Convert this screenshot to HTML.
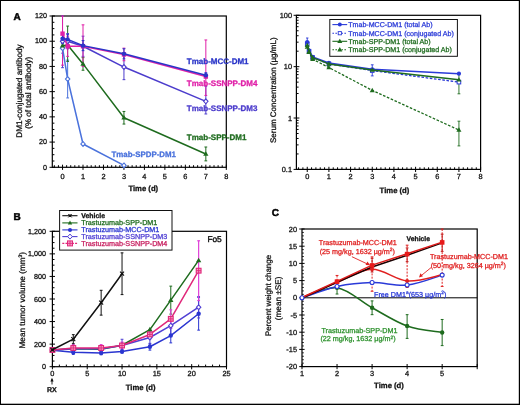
<!DOCTYPE html>
<html><head><meta charset="utf-8"><style>
html,body{margin:0;padding:0;background:#fff;}
body{width:520px;height:405px;overflow:hidden;}
svg{display:block;font-family:"Liberation Sans", sans-serif;}
#g{filter:blur(0.3px);}
text{stroke-width:0.28px;text-rendering:geometricPrecision;}
</style></head><body>
<svg width="520" height="405" viewBox="0 0 520 405">
<rect x="0" y="0" width="520" height="405" fill="#fff"/>
<g id="g">
<line x1="54.35" y1="167.30" x2="54.35" y2="165.20" stroke="#000" stroke-width="1.0" />
<line x1="58.44" y1="167.30" x2="58.44" y2="165.20" stroke="#000" stroke-width="1.0" />
<line x1="66.63" y1="167.30" x2="66.63" y2="165.20" stroke="#000" stroke-width="1.0" />
<line x1="70.72" y1="167.30" x2="70.72" y2="165.20" stroke="#000" stroke-width="1.0" />
<line x1="74.82" y1="167.30" x2="74.82" y2="165.20" stroke="#000" stroke-width="1.0" />
<line x1="78.91" y1="167.30" x2="78.91" y2="165.20" stroke="#000" stroke-width="1.0" />
<line x1="87.10" y1="167.30" x2="87.10" y2="165.20" stroke="#000" stroke-width="1.0" />
<line x1="91.19" y1="167.30" x2="91.19" y2="165.20" stroke="#000" stroke-width="1.0" />
<line x1="95.29" y1="167.30" x2="95.29" y2="165.20" stroke="#000" stroke-width="1.0" />
<line x1="99.38" y1="167.30" x2="99.38" y2="165.20" stroke="#000" stroke-width="1.0" />
<line x1="107.57" y1="167.30" x2="107.57" y2="165.20" stroke="#000" stroke-width="1.0" />
<line x1="111.66" y1="167.30" x2="111.66" y2="165.20" stroke="#000" stroke-width="1.0" />
<line x1="115.76" y1="167.30" x2="115.76" y2="165.20" stroke="#000" stroke-width="1.0" />
<line x1="119.85" y1="167.30" x2="119.85" y2="165.20" stroke="#000" stroke-width="1.0" />
<line x1="128.04" y1="167.30" x2="128.04" y2="165.20" stroke="#000" stroke-width="1.0" />
<line x1="132.14" y1="167.30" x2="132.14" y2="165.20" stroke="#000" stroke-width="1.0" />
<line x1="136.23" y1="167.30" x2="136.23" y2="165.20" stroke="#000" stroke-width="1.0" />
<line x1="140.32" y1="167.30" x2="140.32" y2="165.20" stroke="#000" stroke-width="1.0" />
<line x1="148.51" y1="167.30" x2="148.51" y2="165.20" stroke="#000" stroke-width="1.0" />
<line x1="152.61" y1="167.30" x2="152.61" y2="165.20" stroke="#000" stroke-width="1.0" />
<line x1="156.70" y1="167.30" x2="156.70" y2="165.20" stroke="#000" stroke-width="1.0" />
<line x1="160.79" y1="167.30" x2="160.79" y2="165.20" stroke="#000" stroke-width="1.0" />
<line x1="168.98" y1="167.30" x2="168.98" y2="165.20" stroke="#000" stroke-width="1.0" />
<line x1="173.08" y1="167.30" x2="173.08" y2="165.20" stroke="#000" stroke-width="1.0" />
<line x1="177.17" y1="167.30" x2="177.17" y2="165.20" stroke="#000" stroke-width="1.0" />
<line x1="181.26" y1="167.30" x2="181.26" y2="165.20" stroke="#000" stroke-width="1.0" />
<line x1="189.45" y1="167.30" x2="189.45" y2="165.20" stroke="#000" stroke-width="1.0" />
<line x1="193.55" y1="167.30" x2="193.55" y2="165.20" stroke="#000" stroke-width="1.0" />
<line x1="197.64" y1="167.30" x2="197.64" y2="165.20" stroke="#000" stroke-width="1.0" />
<line x1="201.74" y1="167.30" x2="201.74" y2="165.20" stroke="#000" stroke-width="1.0" />
<line x1="209.92" y1="167.30" x2="209.92" y2="165.20" stroke="#000" stroke-width="1.0" />
<line x1="214.02" y1="167.30" x2="214.02" y2="165.20" stroke="#000" stroke-width="1.0" />
<line x1="218.11" y1="167.30" x2="218.11" y2="165.20" stroke="#000" stroke-width="1.0" />
<line x1="222.21" y1="167.30" x2="222.21" y2="165.20" stroke="#000" stroke-width="1.0" />
<line x1="52.30" y1="161.00" x2="54.40" y2="161.00" stroke="#000" stroke-width="1.0" />
<line x1="52.30" y1="154.69" x2="54.40" y2="154.69" stroke="#000" stroke-width="1.0" />
<line x1="52.30" y1="148.39" x2="54.40" y2="148.39" stroke="#000" stroke-width="1.0" />
<line x1="52.30" y1="135.78" x2="54.40" y2="135.78" stroke="#000" stroke-width="1.0" />
<line x1="52.30" y1="129.48" x2="54.40" y2="129.48" stroke="#000" stroke-width="1.0" />
<line x1="52.30" y1="123.17" x2="54.40" y2="123.17" stroke="#000" stroke-width="1.0" />
<line x1="52.30" y1="110.56" x2="54.40" y2="110.56" stroke="#000" stroke-width="1.0" />
<line x1="52.30" y1="104.26" x2="54.40" y2="104.26" stroke="#000" stroke-width="1.0" />
<line x1="52.30" y1="97.95" x2="54.40" y2="97.95" stroke="#000" stroke-width="1.0" />
<line x1="52.30" y1="85.35" x2="54.40" y2="85.35" stroke="#000" stroke-width="1.0" />
<line x1="52.30" y1="79.04" x2="54.40" y2="79.04" stroke="#000" stroke-width="1.0" />
<line x1="52.30" y1="72.74" x2="54.40" y2="72.74" stroke="#000" stroke-width="1.0" />
<line x1="52.30" y1="60.13" x2="54.40" y2="60.13" stroke="#000" stroke-width="1.0" />
<line x1="52.30" y1="53.83" x2="54.40" y2="53.83" stroke="#000" stroke-width="1.0" />
<line x1="52.30" y1="47.52" x2="54.40" y2="47.52" stroke="#000" stroke-width="1.0" />
<line x1="52.30" y1="34.91" x2="54.40" y2="34.91" stroke="#000" stroke-width="1.0" />
<line x1="52.30" y1="28.61" x2="54.40" y2="28.61" stroke="#000" stroke-width="1.0" />
<line x1="52.30" y1="22.30" x2="54.40" y2="22.30" stroke="#000" stroke-width="1.0" />
<line x1="62.54" y1="164.70" x2="62.54" y2="169.90" stroke="#000" stroke-width="1.0" />
<text x="62.54" y="179.00" font-size="7.4" text-anchor="middle" font-weight="normal" fill="#111" stroke="#111" >0</text>
<line x1="83.01" y1="164.70" x2="83.01" y2="169.90" stroke="#000" stroke-width="1.0" />
<text x="83.01" y="179.00" font-size="7.4" text-anchor="middle" font-weight="normal" fill="#111" stroke="#111" >1</text>
<line x1="103.48" y1="164.70" x2="103.48" y2="169.90" stroke="#000" stroke-width="1.0" />
<text x="103.48" y="179.00" font-size="7.4" text-anchor="middle" font-weight="normal" fill="#111" stroke="#111" >2</text>
<line x1="123.95" y1="164.70" x2="123.95" y2="169.90" stroke="#000" stroke-width="1.0" />
<text x="123.95" y="179.00" font-size="7.4" text-anchor="middle" font-weight="normal" fill="#111" stroke="#111" >3</text>
<line x1="144.42" y1="164.70" x2="144.42" y2="169.90" stroke="#000" stroke-width="1.0" />
<text x="144.42" y="179.00" font-size="7.4" text-anchor="middle" font-weight="normal" fill="#111" stroke="#111" >4</text>
<line x1="164.89" y1="164.70" x2="164.89" y2="169.90" stroke="#000" stroke-width="1.0" />
<text x="164.89" y="179.00" font-size="7.4" text-anchor="middle" font-weight="normal" fill="#111" stroke="#111" >5</text>
<line x1="185.36" y1="164.70" x2="185.36" y2="169.90" stroke="#000" stroke-width="1.0" />
<text x="185.36" y="179.00" font-size="7.4" text-anchor="middle" font-weight="normal" fill="#111" stroke="#111" >6</text>
<line x1="205.83" y1="164.70" x2="205.83" y2="169.90" stroke="#000" stroke-width="1.0" />
<text x="205.83" y="179.00" font-size="7.4" text-anchor="middle" font-weight="normal" fill="#111" stroke="#111" >7</text>
<line x1="226.30" y1="164.70" x2="226.30" y2="169.90" stroke="#000" stroke-width="1.0" />
<text x="226.30" y="179.00" font-size="7.4" text-anchor="middle" font-weight="normal" fill="#111" stroke="#111" >8</text>
<line x1="49.50" y1="167.30" x2="54.90" y2="167.30" stroke="#000" stroke-width="1.0" />
<text x="47.00" y="169.50" font-size="7.2" text-anchor="end" font-weight="normal" fill="#111" stroke="#111" >0</text>
<line x1="49.50" y1="142.08" x2="54.90" y2="142.08" stroke="#000" stroke-width="1.0" />
<text x="47.00" y="144.28" font-size="7.2" text-anchor="end" font-weight="normal" fill="#111" stroke="#111" >20</text>
<line x1="49.50" y1="116.87" x2="54.90" y2="116.87" stroke="#000" stroke-width="1.0" />
<text x="47.00" y="119.07" font-size="7.2" text-anchor="end" font-weight="normal" fill="#111" stroke="#111" >40</text>
<line x1="49.50" y1="91.65" x2="54.90" y2="91.65" stroke="#000" stroke-width="1.0" />
<text x="47.00" y="93.85" font-size="7.2" text-anchor="end" font-weight="normal" fill="#111" stroke="#111" >60</text>
<line x1="49.50" y1="66.43" x2="54.90" y2="66.43" stroke="#000" stroke-width="1.0" />
<text x="47.00" y="68.63" font-size="7.2" text-anchor="end" font-weight="normal" fill="#111" stroke="#111" >80</text>
<line x1="49.50" y1="41.22" x2="54.90" y2="41.22" stroke="#000" stroke-width="1.0" />
<text x="47.00" y="43.42" font-size="7.2" text-anchor="end" font-weight="normal" fill="#111" stroke="#111" >100</text>
<line x1="49.50" y1="16.00" x2="54.90" y2="16.00" stroke="#000" stroke-width="1.0" />
<text x="47.00" y="18.20" font-size="7.2" text-anchor="end" font-weight="normal" fill="#111" stroke="#111" >120</text>
<rect x="52.3" y="16.0" width="174.0" height="151.3" fill="none" stroke="#000" stroke-width="1.2"/>
<text x="143.30" y="191.40" font-size="7.7" text-anchor="middle" font-weight="bold" fill="#111" stroke="#111" >Time (d)</text>
<text transform="translate(22.3,91) rotate(-90)" font-size="8.2" text-anchor="middle" fill="#111" stroke="#111">DM1-conjugated antibody</text>
<text transform="translate(30.6,92.8) rotate(-90)" font-size="8.1" text-anchor="middle" fill="#111" stroke="#111">(% of total antibody)</text>
<line x1="62.54" y1="43.11" x2="62.54" y2="53.19" stroke="#4a72dc" stroke-width="1.0" />
<line x1="61.14" y1="43.11" x2="63.94" y2="43.11" stroke="#4a72dc" stroke-width="1.0" />
<line x1="61.14" y1="53.19" x2="63.94" y2="53.19" stroke="#4a72dc" stroke-width="1.0" />
<line x1="67.65" y1="60.13" x2="67.65" y2="97.95" stroke="#4a72dc" stroke-width="1.0" />
<line x1="66.25" y1="60.13" x2="69.05" y2="60.13" stroke="#4a72dc" stroke-width="1.0" />
<line x1="66.25" y1="97.95" x2="69.05" y2="97.95" stroke="#4a72dc" stroke-width="1.0" />
<line x1="62.54" y1="41.85" x2="62.54" y2="49.41" stroke="#1e6b1e" stroke-width="1.0" />
<line x1="61.14" y1="41.85" x2="63.94" y2="41.85" stroke="#1e6b1e" stroke-width="1.0" />
<line x1="61.14" y1="49.41" x2="63.94" y2="49.41" stroke="#1e6b1e" stroke-width="1.0" />
<line x1="67.65" y1="26.09" x2="67.65" y2="61.39" stroke="#1e6b1e" stroke-width="1.0" />
<line x1="66.25" y1="26.09" x2="69.05" y2="26.09" stroke="#1e6b1e" stroke-width="1.0" />
<line x1="66.25" y1="61.39" x2="69.05" y2="61.39" stroke="#1e6b1e" stroke-width="1.0" />
<line x1="83.01" y1="57.61" x2="83.01" y2="70.22" stroke="#1e6b1e" stroke-width="1.0" />
<line x1="81.61" y1="57.61" x2="84.41" y2="57.61" stroke="#1e6b1e" stroke-width="1.0" />
<line x1="81.61" y1="70.22" x2="84.41" y2="70.22" stroke="#1e6b1e" stroke-width="1.0" />
<line x1="123.95" y1="111.45" x2="123.95" y2="124.05" stroke="#1e6b1e" stroke-width="1.0" />
<line x1="122.55" y1="111.45" x2="125.35" y2="111.45" stroke="#1e6b1e" stroke-width="1.0" />
<line x1="122.55" y1="124.05" x2="125.35" y2="124.05" stroke="#1e6b1e" stroke-width="1.0" />
<line x1="205.83" y1="147.00" x2="205.83" y2="160.87" stroke="#1e6b1e" stroke-width="1.0" />
<line x1="204.43" y1="147.00" x2="207.23" y2="147.00" stroke="#1e6b1e" stroke-width="1.0" />
<line x1="204.43" y1="160.87" x2="207.23" y2="160.87" stroke="#1e6b1e" stroke-width="1.0" />
<line x1="62.54" y1="16.00" x2="62.54" y2="67.69" stroke="#4c3ccc" stroke-width="1.0" />
<line x1="61.14" y1="16.00" x2="63.94" y2="16.00" stroke="#4c3ccc" stroke-width="1.0" />
<line x1="61.14" y1="67.69" x2="63.94" y2="67.69" stroke="#4c3ccc" stroke-width="1.0" />
<line x1="67.65" y1="33.65" x2="67.65" y2="48.78" stroke="#4c3ccc" stroke-width="1.0" />
<line x1="66.25" y1="33.65" x2="69.05" y2="33.65" stroke="#4c3ccc" stroke-width="1.0" />
<line x1="66.25" y1="48.78" x2="69.05" y2="48.78" stroke="#4c3ccc" stroke-width="1.0" />
<line x1="83.01" y1="36.17" x2="83.01" y2="56.35" stroke="#4c3ccc" stroke-width="1.0" />
<line x1="81.61" y1="36.17" x2="84.41" y2="36.17" stroke="#4c3ccc" stroke-width="1.0" />
<line x1="81.61" y1="56.35" x2="84.41" y2="56.35" stroke="#4c3ccc" stroke-width="1.0" />
<line x1="123.95" y1="54.46" x2="123.95" y2="79.67" stroke="#4c3ccc" stroke-width="1.0" />
<line x1="122.55" y1="54.46" x2="125.35" y2="54.46" stroke="#4c3ccc" stroke-width="1.0" />
<line x1="122.55" y1="79.67" x2="125.35" y2="79.67" stroke="#4c3ccc" stroke-width="1.0" />
<line x1="205.83" y1="86.23" x2="205.83" y2="113.97" stroke="#4c3ccc" stroke-width="1.0" />
<line x1="204.43" y1="86.23" x2="207.23" y2="86.23" stroke="#4c3ccc" stroke-width="1.0" />
<line x1="204.43" y1="113.97" x2="207.23" y2="113.97" stroke="#4c3ccc" stroke-width="1.0" />
<line x1="62.54" y1="16.00" x2="62.54" y2="65.17" stroke="#e020a8" stroke-width="1.0" />
<line x1="61.14" y1="16.00" x2="63.94" y2="16.00" stroke="#e020a8" stroke-width="1.0" />
<line x1="61.14" y1="65.17" x2="63.94" y2="65.17" stroke="#e020a8" stroke-width="1.0" />
<line x1="67.65" y1="36.17" x2="67.65" y2="56.35" stroke="#e020a8" stroke-width="1.0" />
<line x1="66.25" y1="36.17" x2="69.05" y2="36.17" stroke="#e020a8" stroke-width="1.0" />
<line x1="66.25" y1="56.35" x2="69.05" y2="56.35" stroke="#e020a8" stroke-width="1.0" />
<line x1="83.01" y1="24.83" x2="83.01" y2="66.43" stroke="#e020a8" stroke-width="1.0" />
<line x1="81.61" y1="24.83" x2="84.41" y2="24.83" stroke="#e020a8" stroke-width="1.0" />
<line x1="81.61" y1="66.43" x2="84.41" y2="66.43" stroke="#e020a8" stroke-width="1.0" />
<line x1="123.95" y1="48.15" x2="123.95" y2="60.76" stroke="#e020a8" stroke-width="1.0" />
<line x1="122.55" y1="48.15" x2="125.35" y2="48.15" stroke="#e020a8" stroke-width="1.0" />
<line x1="122.55" y1="60.76" x2="125.35" y2="60.76" stroke="#e020a8" stroke-width="1.0" />
<line x1="205.83" y1="39.96" x2="205.83" y2="95.43" stroke="#e020a8" stroke-width="1.0" />
<line x1="204.43" y1="39.96" x2="207.23" y2="39.96" stroke="#e020a8" stroke-width="1.0" />
<line x1="204.43" y1="95.43" x2="207.23" y2="95.43" stroke="#e020a8" stroke-width="1.0" />
<line x1="62.54" y1="33.65" x2="62.54" y2="43.74" stroke="#2a35c8" stroke-width="1.0" />
<line x1="61.14" y1="33.65" x2="63.94" y2="33.65" stroke="#2a35c8" stroke-width="1.0" />
<line x1="61.14" y1="43.74" x2="63.94" y2="43.74" stroke="#2a35c8" stroke-width="1.0" />
<line x1="67.65" y1="34.28" x2="67.65" y2="44.37" stroke="#2a35c8" stroke-width="1.0" />
<line x1="66.25" y1="34.28" x2="69.05" y2="34.28" stroke="#2a35c8" stroke-width="1.0" />
<line x1="66.25" y1="44.37" x2="69.05" y2="44.37" stroke="#2a35c8" stroke-width="1.0" />
<line x1="83.01" y1="40.59" x2="83.01" y2="50.67" stroke="#2a35c8" stroke-width="1.0" />
<line x1="81.61" y1="40.59" x2="84.41" y2="40.59" stroke="#2a35c8" stroke-width="1.0" />
<line x1="81.61" y1="50.67" x2="84.41" y2="50.67" stroke="#2a35c8" stroke-width="1.0" />
<line x1="123.95" y1="48.78" x2="123.95" y2="58.87" stroke="#2a35c8" stroke-width="1.0" />
<line x1="122.55" y1="48.78" x2="125.35" y2="48.78" stroke="#2a35c8" stroke-width="1.0" />
<line x1="122.55" y1="58.87" x2="125.35" y2="58.87" stroke="#2a35c8" stroke-width="1.0" />
<line x1="205.83" y1="72.74" x2="205.83" y2="77.78" stroke="#2a35c8" stroke-width="1.0" />
<line x1="204.43" y1="72.74" x2="207.23" y2="72.74" stroke="#2a35c8" stroke-width="1.0" />
<line x1="204.43" y1="77.78" x2="207.23" y2="77.78" stroke="#2a35c8" stroke-width="1.0" />
<polyline points="62.54,48.15 67.65,79.04 83.01,143.97 123.95,165.41" fill="none" stroke="#4a72dc" stroke-width="1.5" stroke-linejoin="round" />
<polygon points="62.54,45.73 64.74,48.15 62.54,50.57 60.34,48.15" fill="#fff" stroke="#4a72dc" stroke-width="1.1"/>
<polygon points="67.65,76.62 69.85,79.04 67.65,81.46 65.45,79.04" fill="#fff" stroke="#4a72dc" stroke-width="1.1"/>
<polygon points="83.01,141.55 85.21,143.97 83.01,146.39 80.81,143.97" fill="#fff" stroke="#4a72dc" stroke-width="1.1"/>
<polygon points="123.95,162.99 126.15,165.41 123.95,167.83 121.75,165.41" fill="#fff" stroke="#4a72dc" stroke-width="1.1"/>
<polyline points="62.54,45.63 67.65,45.00 83.01,63.91 123.95,117.75 205.83,153.94" fill="none" stroke="#1e6b1e" stroke-width="1.5" stroke-linejoin="round" />
<polygon points="62.54,42.87 65.18,47.43 59.90,47.43" fill="#1e6b1e"/>
<polygon points="67.65,42.24 70.29,46.80 65.01,46.80" fill="#1e6b1e"/>
<polygon points="83.01,61.15 85.65,65.71 80.37,65.71" fill="#1e6b1e"/>
<polygon points="123.95,114.99 126.59,119.55 121.31,119.55" fill="#1e6b1e"/>
<polygon points="205.83,151.18 208.47,155.74 203.19,155.74" fill="#1e6b1e"/>
<polyline points="62.54,41.22 67.65,41.22 83.01,46.26 123.95,67.06 205.83,101.36" fill="none" stroke="#4c3ccc" stroke-width="1.5" stroke-linejoin="round" />
<polygon points="62.54,38.80 64.74,41.22 62.54,43.64 60.34,41.22" fill="#fff" stroke="#4c3ccc" stroke-width="1.1"/>
<polygon points="67.65,38.80 69.85,41.22 67.65,43.64 65.45,41.22" fill="#fff" stroke="#4c3ccc" stroke-width="1.1"/>
<polygon points="83.01,43.84 85.21,46.26 83.01,48.68 80.81,46.26" fill="#fff" stroke="#4c3ccc" stroke-width="1.1"/>
<polygon points="123.95,64.64 126.15,67.06 123.95,69.48 121.75,67.06" fill="#fff" stroke="#4c3ccc" stroke-width="1.1"/>
<polygon points="205.83,98.94 208.03,101.36 205.83,103.78 203.63,101.36" fill="#fff" stroke="#4c3ccc" stroke-width="1.1"/>
<polyline points="62.54,33.65 67.65,46.26 83.01,46.26 123.95,54.46 205.83,76.52" fill="none" stroke="#e020a8" stroke-width="1.5" stroke-linejoin="round" />
<rect x="60.34" y="31.45" width="4.40" height="4.40" fill="#e020a8"/>
<rect x="65.45" y="44.06" width="4.40" height="4.40" fill="#e020a8"/>
<rect x="80.81" y="44.06" width="4.40" height="4.40" fill="#e020a8"/>
<rect x="121.75" y="52.26" width="4.40" height="4.40" fill="#e020a8"/>
<rect x="203.63" y="74.32" width="4.40" height="4.40" fill="#e020a8"/>
<polyline points="62.54,38.70 67.65,39.33 83.01,45.63 123.95,53.83 205.83,75.26" fill="none" stroke="#2a35c8" stroke-width="1.5" stroke-linejoin="round" />
<circle cx="62.54" cy="38.70" r="2.20" fill="#2a35c8"/>
<circle cx="67.65" cy="39.33" r="2.20" fill="#2a35c8"/>
<circle cx="83.01" cy="45.63" r="2.20" fill="#2a35c8"/>
<circle cx="123.95" cy="53.83" r="2.20" fill="#2a35c8"/>
<circle cx="205.83" cy="75.26" r="2.20" fill="#2a35c8"/>
<text x="186.80" y="64.00" font-size="8.0" text-anchor="start" font-weight="bold" fill="#2a35c8" stroke="#2a35c8" >Tmab-MCC-DM1</text>
<text x="186.80" y="86.00" font-size="8.0" text-anchor="start" font-weight="bold" fill="#e020a8" stroke="#e020a8" >Tmab-SSNPP-DM4</text>
<text x="186.80" y="111.30" font-size="8.0" text-anchor="start" font-weight="bold" fill="#4c3ccc" stroke="#4c3ccc" >Tmab-SSNPP-DM3</text>
<text x="186.80" y="139.80" font-size="8.0" text-anchor="start" font-weight="bold" fill="#1e6b1e" stroke="#1e6b1e" >Tmab-SPP-DM1</text>
<text x="111.50" y="157.00" font-size="7.9" text-anchor="start" font-weight="bold" fill="#4a72dc" stroke="#4a72dc" >Tmab-SPDP-DM1</text>
<line x1="298.57" y1="169.40" x2="298.57" y2="167.30" stroke="#000" stroke-width="1.0" />
<line x1="302.90" y1="169.40" x2="302.90" y2="167.30" stroke="#000" stroke-width="1.0" />
<line x1="311.57" y1="169.40" x2="311.57" y2="167.30" stroke="#000" stroke-width="1.0" />
<line x1="315.90" y1="169.40" x2="315.90" y2="167.30" stroke="#000" stroke-width="1.0" />
<line x1="320.24" y1="169.40" x2="320.24" y2="167.30" stroke="#000" stroke-width="1.0" />
<line x1="324.57" y1="169.40" x2="324.57" y2="167.30" stroke="#000" stroke-width="1.0" />
<line x1="333.24" y1="169.40" x2="333.24" y2="167.30" stroke="#000" stroke-width="1.0" />
<line x1="337.57" y1="169.40" x2="337.57" y2="167.30" stroke="#000" stroke-width="1.0" />
<line x1="341.91" y1="169.40" x2="341.91" y2="167.30" stroke="#000" stroke-width="1.0" />
<line x1="346.24" y1="169.40" x2="346.24" y2="167.30" stroke="#000" stroke-width="1.0" />
<line x1="354.91" y1="169.40" x2="354.91" y2="167.30" stroke="#000" stroke-width="1.0" />
<line x1="359.24" y1="169.40" x2="359.24" y2="167.30" stroke="#000" stroke-width="1.0" />
<line x1="363.58" y1="169.40" x2="363.58" y2="167.30" stroke="#000" stroke-width="1.0" />
<line x1="367.91" y1="169.40" x2="367.91" y2="167.30" stroke="#000" stroke-width="1.0" />
<line x1="376.58" y1="169.40" x2="376.58" y2="167.30" stroke="#000" stroke-width="1.0" />
<line x1="380.92" y1="169.40" x2="380.92" y2="167.30" stroke="#000" stroke-width="1.0" />
<line x1="385.25" y1="169.40" x2="385.25" y2="167.30" stroke="#000" stroke-width="1.0" />
<line x1="389.58" y1="169.40" x2="389.58" y2="167.30" stroke="#000" stroke-width="1.0" />
<line x1="398.25" y1="169.40" x2="398.25" y2="167.30" stroke="#000" stroke-width="1.0" />
<line x1="402.59" y1="169.40" x2="402.59" y2="167.30" stroke="#000" stroke-width="1.0" />
<line x1="406.92" y1="169.40" x2="406.92" y2="167.30" stroke="#000" stroke-width="1.0" />
<line x1="411.25" y1="169.40" x2="411.25" y2="167.30" stroke="#000" stroke-width="1.0" />
<line x1="419.92" y1="169.40" x2="419.92" y2="167.30" stroke="#000" stroke-width="1.0" />
<line x1="424.26" y1="169.40" x2="424.26" y2="167.30" stroke="#000" stroke-width="1.0" />
<line x1="428.59" y1="169.40" x2="428.59" y2="167.30" stroke="#000" stroke-width="1.0" />
<line x1="432.92" y1="169.40" x2="432.92" y2="167.30" stroke="#000" stroke-width="1.0" />
<line x1="441.59" y1="169.40" x2="441.59" y2="167.30" stroke="#000" stroke-width="1.0" />
<line x1="445.93" y1="169.40" x2="445.93" y2="167.30" stroke="#000" stroke-width="1.0" />
<line x1="450.26" y1="169.40" x2="450.26" y2="167.30" stroke="#000" stroke-width="1.0" />
<line x1="454.60" y1="169.40" x2="454.60" y2="167.30" stroke="#000" stroke-width="1.0" />
<line x1="463.26" y1="169.40" x2="463.26" y2="167.30" stroke="#000" stroke-width="1.0" />
<line x1="467.60" y1="169.40" x2="467.60" y2="167.30" stroke="#000" stroke-width="1.0" />
<line x1="471.93" y1="169.40" x2="471.93" y2="167.30" stroke="#000" stroke-width="1.0" />
<line x1="476.27" y1="169.40" x2="476.27" y2="167.30" stroke="#000" stroke-width="1.0" />
<line x1="296.40" y1="153.94" x2="298.60" y2="153.94" stroke="#000" stroke-width="1.0" />
<line x1="296.40" y1="144.89" x2="298.60" y2="144.89" stroke="#000" stroke-width="1.0" />
<line x1="296.40" y1="138.47" x2="298.60" y2="138.47" stroke="#000" stroke-width="1.0" />
<line x1="296.40" y1="133.50" x2="298.60" y2="133.50" stroke="#000" stroke-width="1.0" />
<line x1="296.40" y1="129.43" x2="298.60" y2="129.43" stroke="#000" stroke-width="1.0" />
<line x1="296.40" y1="125.99" x2="298.60" y2="125.99" stroke="#000" stroke-width="1.0" />
<line x1="296.40" y1="123.01" x2="298.60" y2="123.01" stroke="#000" stroke-width="1.0" />
<line x1="296.40" y1="120.38" x2="298.60" y2="120.38" stroke="#000" stroke-width="1.0" />
<line x1="296.40" y1="102.57" x2="298.60" y2="102.57" stroke="#000" stroke-width="1.0" />
<line x1="296.40" y1="93.53" x2="298.60" y2="93.53" stroke="#000" stroke-width="1.0" />
<line x1="296.40" y1="87.11" x2="298.60" y2="87.11" stroke="#000" stroke-width="1.0" />
<line x1="296.40" y1="82.13" x2="298.60" y2="82.13" stroke="#000" stroke-width="1.0" />
<line x1="296.40" y1="78.06" x2="298.60" y2="78.06" stroke="#000" stroke-width="1.0" />
<line x1="296.40" y1="74.62" x2="298.60" y2="74.62" stroke="#000" stroke-width="1.0" />
<line x1="296.40" y1="71.64" x2="298.60" y2="71.64" stroke="#000" stroke-width="1.0" />
<line x1="296.40" y1="69.02" x2="298.60" y2="69.02" stroke="#000" stroke-width="1.0" />
<line x1="296.40" y1="51.20" x2="298.60" y2="51.20" stroke="#000" stroke-width="1.0" />
<line x1="296.40" y1="42.16" x2="298.60" y2="42.16" stroke="#000" stroke-width="1.0" />
<line x1="296.40" y1="35.74" x2="298.60" y2="35.74" stroke="#000" stroke-width="1.0" />
<line x1="296.40" y1="30.76" x2="298.60" y2="30.76" stroke="#000" stroke-width="1.0" />
<line x1="296.40" y1="26.70" x2="298.60" y2="26.70" stroke="#000" stroke-width="1.0" />
<line x1="296.40" y1="23.26" x2="298.60" y2="23.26" stroke="#000" stroke-width="1.0" />
<line x1="296.40" y1="20.28" x2="298.60" y2="20.28" stroke="#000" stroke-width="1.0" />
<line x1="296.40" y1="17.65" x2="298.60" y2="17.65" stroke="#000" stroke-width="1.0" />
<line x1="307.24" y1="166.80" x2="307.24" y2="172.00" stroke="#000" stroke-width="1.0" />
<text x="307.24" y="179.00" font-size="7.4" text-anchor="middle" font-weight="normal" fill="#111" stroke="#111" >0</text>
<line x1="328.91" y1="166.80" x2="328.91" y2="172.00" stroke="#000" stroke-width="1.0" />
<text x="328.91" y="179.00" font-size="7.4" text-anchor="middle" font-weight="normal" fill="#111" stroke="#111" >1</text>
<line x1="350.58" y1="166.80" x2="350.58" y2="172.00" stroke="#000" stroke-width="1.0" />
<text x="350.58" y="179.00" font-size="7.4" text-anchor="middle" font-weight="normal" fill="#111" stroke="#111" >2</text>
<line x1="372.25" y1="166.80" x2="372.25" y2="172.00" stroke="#000" stroke-width="1.0" />
<text x="372.25" y="179.00" font-size="7.4" text-anchor="middle" font-weight="normal" fill="#111" stroke="#111" >3</text>
<line x1="393.92" y1="166.80" x2="393.92" y2="172.00" stroke="#000" stroke-width="1.0" />
<text x="393.92" y="179.00" font-size="7.4" text-anchor="middle" font-weight="normal" fill="#111" stroke="#111" >4</text>
<line x1="415.59" y1="166.80" x2="415.59" y2="172.00" stroke="#000" stroke-width="1.0" />
<text x="415.59" y="179.00" font-size="7.4" text-anchor="middle" font-weight="normal" fill="#111" stroke="#111" >5</text>
<line x1="437.26" y1="166.80" x2="437.26" y2="172.00" stroke="#000" stroke-width="1.0" />
<text x="437.26" y="179.00" font-size="7.4" text-anchor="middle" font-weight="normal" fill="#111" stroke="#111" >6</text>
<line x1="458.93" y1="166.80" x2="458.93" y2="172.00" stroke="#000" stroke-width="1.0" />
<text x="458.93" y="179.00" font-size="7.4" text-anchor="middle" font-weight="normal" fill="#111" stroke="#111" >7</text>
<line x1="480.60" y1="166.80" x2="480.60" y2="172.00" stroke="#000" stroke-width="1.0" />
<text x="480.60" y="179.00" font-size="7.4" text-anchor="middle" font-weight="normal" fill="#111" stroke="#111" >8</text>
<line x1="293.60" y1="169.40" x2="299.40" y2="169.40" stroke="#000" stroke-width="1.0" />
<text x="292.00" y="172.00" font-size="7.4" text-anchor="end" font-weight="normal" fill="#111" stroke="#111" >0.1</text>
<line x1="293.60" y1="118.03" x2="299.40" y2="118.03" stroke="#000" stroke-width="1.0" />
<text x="292.00" y="120.63" font-size="7.4" text-anchor="end" font-weight="normal" fill="#111" stroke="#111" >1</text>
<line x1="293.60" y1="66.67" x2="299.40" y2="66.67" stroke="#000" stroke-width="1.0" />
<text x="292.00" y="69.27" font-size="7.4" text-anchor="end" font-weight="normal" fill="#111" stroke="#111" >10</text>
<line x1="293.60" y1="15.30" x2="299.40" y2="15.30" stroke="#000" stroke-width="1.0" />
<text x="292.00" y="17.90" font-size="7.4" text-anchor="end" font-weight="normal" fill="#111" stroke="#111" >100</text>
<rect x="296.4" y="15.3" width="184.20000000000005" height="154.1" fill="none" stroke="#000" stroke-width="1.2"/>
<text x="394.50" y="192.60" font-size="7.7" text-anchor="middle" font-weight="bold" fill="#111" stroke="#111" >Time (d)</text>
<text transform="translate(275.9,90.2) rotate(-90)" font-size="8.0" text-anchor="middle" fill="#111" stroke="#111">Serum Concentration (<tspan font-style="normal">µ</tspan>g/mL)</text>
<line x1="458.93" y1="73.50" x2="458.93" y2="93.80" stroke="#1e6b1e" stroke-width="0.9" />
<line x1="457.53" y1="73.50" x2="460.33" y2="73.50" stroke="#1e6b1e" stroke-width="0.9" />
<line x1="457.53" y1="93.80" x2="460.33" y2="93.80" stroke="#1e6b1e" stroke-width="0.9" />
<line x1="458.93" y1="121.20" x2="458.93" y2="145.90" stroke="#1e6b1e" stroke-width="0.9" />
<line x1="457.53" y1="121.20" x2="460.33" y2="121.20" stroke="#1e6b1e" stroke-width="0.9" />
<line x1="457.53" y1="145.90" x2="460.33" y2="145.90" stroke="#1e6b1e" stroke-width="0.9" />
<line x1="372.25" y1="64.80" x2="372.25" y2="75.90" stroke="#2a3ad8" stroke-width="0.9" />
<line x1="370.85" y1="64.80" x2="373.65" y2="64.80" stroke="#2a3ad8" stroke-width="0.9" />
<line x1="370.85" y1="75.90" x2="373.65" y2="75.90" stroke="#2a3ad8" stroke-width="0.9" />
<line x1="307.24" y1="38.00" x2="307.24" y2="47.00" stroke="#2a3ad8" stroke-width="0.9" />
<line x1="306.04" y1="38.00" x2="308.44" y2="38.00" stroke="#2a3ad8" stroke-width="0.9" />
<line x1="306.04" y1="47.00" x2="308.44" y2="47.00" stroke="#2a3ad8" stroke-width="0.9" />
<polyline points="307.24,43.70 309.03,51.20 312.65,57.62 328.91,63.94 372.25,70.56 458.93,82.13" fill="none" stroke="#2a3ad8" stroke-width="1.3" stroke-linejoin="round" stroke-dasharray="2.6,1.6"/>
<polyline points="307.24,42.16 309.03,50.65 312.65,56.89 328.91,62.97 372.25,69.27 458.93,73.69" fill="none" stroke="#2a3ad8" stroke-width="1.4" stroke-linejoin="round" />
<rect x="305.44" y="41.90" width="3.60" height="3.60" fill="#fff" stroke="#2a3ad8" stroke-width="1.0"/>
<rect x="307.23" y="49.40" width="3.60" height="3.60" fill="#fff" stroke="#2a3ad8" stroke-width="1.0"/>
<rect x="310.85" y="55.82" width="3.60" height="3.60" fill="#fff" stroke="#2a3ad8" stroke-width="1.0"/>
<rect x="327.11" y="62.14" width="3.60" height="3.60" fill="#fff" stroke="#2a3ad8" stroke-width="1.0"/>
<rect x="370.45" y="68.76" width="3.60" height="3.60" fill="#fff" stroke="#2a3ad8" stroke-width="1.0"/>
<rect x="457.13" y="80.33" width="3.60" height="3.60" fill="#fff" stroke="#2a3ad8" stroke-width="1.0"/>
<circle cx="307.24" cy="42.16" r="2.10" fill="#2a3ad8"/>
<circle cx="309.03" cy="50.65" r="2.10" fill="#2a3ad8"/>
<circle cx="312.65" cy="56.89" r="2.10" fill="#2a3ad8"/>
<circle cx="328.91" cy="62.97" r="2.10" fill="#2a3ad8"/>
<circle cx="372.25" cy="69.27" r="2.10" fill="#2a3ad8"/>
<circle cx="458.93" cy="73.69" r="2.10" fill="#2a3ad8"/>
<polyline points="307.24,47.14 309.03,52.35 312.65,59.16 328.91,67.58 372.25,90.41 458.93,129.96" fill="none" stroke="#1e6b1e" stroke-width="1.3" stroke-linejoin="round" stroke-dasharray="2.6,1.6"/>
<polyline points="307.24,45.35 309.03,51.77 312.65,57.62 328.91,63.94 372.25,70.03 458.93,79.80" fill="none" stroke="#1e6b1e" stroke-width="1.4" stroke-linejoin="round" />
<polygon points="307.24,44.49 309.77,48.86 304.71,48.86" fill="#1e6b1e"/>
<polygon points="309.03,49.70 311.56,54.07 306.50,54.07" fill="#1e6b1e"/>
<polygon points="312.65,56.52 315.18,60.89 310.12,60.89" fill="#1e6b1e"/>
<polygon points="328.91,64.93 331.44,69.30 326.38,69.30" fill="#1e6b1e"/>
<polygon points="372.25,87.76 374.78,92.13 369.72,92.13" fill="#1e6b1e"/>
<polygon points="458.93,127.31 461.46,131.68 456.40,131.68" fill="#1e6b1e"/>
<polygon points="307.24,42.71 309.77,47.08 304.71,47.08" fill="#1e6b1e"/>
<polygon points="309.03,49.12 311.56,53.49 306.50,53.49" fill="#1e6b1e"/>
<polygon points="312.65,54.98 315.18,59.35 310.12,59.35" fill="#1e6b1e"/>
<polygon points="328.91,61.30 331.44,65.67 326.38,65.67" fill="#1e6b1e"/>
<polygon points="372.25,67.39 374.78,71.76 369.72,71.76" fill="#1e6b1e"/>
<polygon points="458.93,77.16 461.46,81.53 456.40,81.53" fill="#1e6b1e"/>
<rect x="329.8" y="19.5" width="127.6" height="36.8" fill="#fff" stroke="#111" stroke-width="1.0"/>
<line x1="332.40" y1="24.60" x2="347.20" y2="24.60" stroke="#2a3ad8" stroke-width="1.1" />
<circle cx="339.80" cy="24.60" r="2.00" fill="#2a3ad8"/>
<text x="348.20" y="27.10" font-size="7.1" text-anchor="start" font-weight="normal" fill="#2a3ad8" stroke="#2a3ad8" >Tmab-MCC-DM1 (total Ab)</text>
<line x1="332.40" y1="33.20" x2="347.20" y2="33.20" stroke="#2a3ad8" stroke-width="1.1" stroke-dasharray="1.6,1.4"/>
<rect x="338.20" y="31.60" width="3.20" height="3.20" fill="#fff" stroke="#2a3ad8" stroke-width="0.9"/>
<text x="348.20" y="35.70" font-size="7.1" text-anchor="start" font-weight="normal" fill="#2a3ad8" stroke="#2a3ad8" >Tmab-MCC-DM1 (conjugated Ab)</text>
<line x1="332.40" y1="41.30" x2="347.20" y2="41.30" stroke="#1e6b1e" stroke-width="1.1" />
<polygon points="339.80,38.66 342.33,43.02 337.27,43.02" fill="#1e6b1e"/>
<text x="348.20" y="43.80" font-size="7.1" text-anchor="start" font-weight="normal" fill="#1e6b1e" stroke="#1e6b1e" >Tmab-SPP-DM1 (total Ab)</text>
<line x1="332.40" y1="49.70" x2="347.20" y2="49.70" stroke="#1e6b1e" stroke-width="1.1" stroke-dasharray="1.6,1.4"/>
<polygon points="339.80,47.06 342.33,51.43 337.27,51.43" fill="#1e6b1e"/>
<text x="348.20" y="52.20" font-size="7.1" text-anchor="start" font-weight="normal" fill="#1e6b1e" stroke="#1e6b1e" >Tmab-SPP-DM1 (conjugated Ab)</text>
<line x1="59.36" y1="366.70" x2="59.36" y2="364.60" stroke="#000" stroke-width="1.0" />
<line x1="66.33" y1="366.70" x2="66.33" y2="364.60" stroke="#000" stroke-width="1.0" />
<line x1="73.29" y1="366.70" x2="73.29" y2="364.60" stroke="#000" stroke-width="1.0" />
<line x1="80.26" y1="366.70" x2="80.26" y2="364.60" stroke="#000" stroke-width="1.0" />
<line x1="94.18" y1="366.70" x2="94.18" y2="364.60" stroke="#000" stroke-width="1.0" />
<line x1="101.15" y1="366.70" x2="101.15" y2="364.60" stroke="#000" stroke-width="1.0" />
<line x1="108.11" y1="366.70" x2="108.11" y2="364.60" stroke="#000" stroke-width="1.0" />
<line x1="115.08" y1="366.70" x2="115.08" y2="364.60" stroke="#000" stroke-width="1.0" />
<line x1="129.00" y1="366.70" x2="129.00" y2="364.60" stroke="#000" stroke-width="1.0" />
<line x1="135.97" y1="366.70" x2="135.97" y2="364.60" stroke="#000" stroke-width="1.0" />
<line x1="142.93" y1="366.70" x2="142.93" y2="364.60" stroke="#000" stroke-width="1.0" />
<line x1="149.90" y1="366.70" x2="149.90" y2="364.60" stroke="#000" stroke-width="1.0" />
<line x1="163.82" y1="366.70" x2="163.82" y2="364.60" stroke="#000" stroke-width="1.0" />
<line x1="170.79" y1="366.70" x2="170.79" y2="364.60" stroke="#000" stroke-width="1.0" />
<line x1="177.75" y1="366.70" x2="177.75" y2="364.60" stroke="#000" stroke-width="1.0" />
<line x1="184.72" y1="366.70" x2="184.72" y2="364.60" stroke="#000" stroke-width="1.0" />
<line x1="198.64" y1="366.70" x2="198.64" y2="364.60" stroke="#000" stroke-width="1.0" />
<line x1="205.61" y1="366.70" x2="205.61" y2="364.60" stroke="#000" stroke-width="1.0" />
<line x1="212.57" y1="366.70" x2="212.57" y2="364.60" stroke="#000" stroke-width="1.0" />
<line x1="219.54" y1="366.70" x2="219.54" y2="364.60" stroke="#000" stroke-width="1.0" />
<line x1="52.40" y1="361.06" x2="54.50" y2="361.06" stroke="#000" stroke-width="1.0" />
<line x1="52.40" y1="355.42" x2="54.50" y2="355.42" stroke="#000" stroke-width="1.0" />
<line x1="52.40" y1="349.77" x2="54.50" y2="349.77" stroke="#000" stroke-width="1.0" />
<line x1="52.40" y1="338.49" x2="54.50" y2="338.49" stroke="#000" stroke-width="1.0" />
<line x1="52.40" y1="332.85" x2="54.50" y2="332.85" stroke="#000" stroke-width="1.0" />
<line x1="52.40" y1="327.21" x2="54.50" y2="327.21" stroke="#000" stroke-width="1.0" />
<line x1="52.40" y1="315.93" x2="54.50" y2="315.93" stroke="#000" stroke-width="1.0" />
<line x1="52.40" y1="310.28" x2="54.50" y2="310.28" stroke="#000" stroke-width="1.0" />
<line x1="52.40" y1="304.64" x2="54.50" y2="304.64" stroke="#000" stroke-width="1.0" />
<line x1="52.40" y1="293.36" x2="54.50" y2="293.36" stroke="#000" stroke-width="1.0" />
<line x1="52.40" y1="287.72" x2="54.50" y2="287.72" stroke="#000" stroke-width="1.0" />
<line x1="52.40" y1="282.07" x2="54.50" y2="282.07" stroke="#000" stroke-width="1.0" />
<line x1="52.40" y1="270.79" x2="54.50" y2="270.79" stroke="#000" stroke-width="1.0" />
<line x1="52.40" y1="265.15" x2="54.50" y2="265.15" stroke="#000" stroke-width="1.0" />
<line x1="52.40" y1="259.51" x2="54.50" y2="259.51" stroke="#000" stroke-width="1.0" />
<line x1="52.40" y1="248.23" x2="54.50" y2="248.23" stroke="#000" stroke-width="1.0" />
<line x1="52.40" y1="242.58" x2="54.50" y2="242.58" stroke="#000" stroke-width="1.0" />
<line x1="52.40" y1="236.94" x2="54.50" y2="236.94" stroke="#000" stroke-width="1.0" />
<line x1="52.40" y1="364.10" x2="52.40" y2="369.30" stroke="#000" stroke-width="1.0" />
<text x="52.40" y="375.80" font-size="7.4" text-anchor="middle" font-weight="normal" fill="#111" stroke="#111" >0</text>
<line x1="87.22" y1="364.10" x2="87.22" y2="369.30" stroke="#000" stroke-width="1.0" />
<text x="87.22" y="375.80" font-size="7.4" text-anchor="middle" font-weight="normal" fill="#111" stroke="#111" >5</text>
<line x1="122.04" y1="364.10" x2="122.04" y2="369.30" stroke="#000" stroke-width="1.0" />
<text x="122.04" y="375.80" font-size="7.4" text-anchor="middle" font-weight="normal" fill="#111" stroke="#111" >10</text>
<line x1="156.86" y1="364.10" x2="156.86" y2="369.30" stroke="#000" stroke-width="1.0" />
<text x="156.86" y="375.80" font-size="7.4" text-anchor="middle" font-weight="normal" fill="#111" stroke="#111" >15</text>
<line x1="191.68" y1="364.10" x2="191.68" y2="369.30" stroke="#000" stroke-width="1.0" />
<text x="191.68" y="375.80" font-size="7.4" text-anchor="middle" font-weight="normal" fill="#111" stroke="#111" >20</text>
<line x1="226.50" y1="364.10" x2="226.50" y2="369.30" stroke="#000" stroke-width="1.0" />
<text x="226.50" y="375.80" font-size="7.4" text-anchor="middle" font-weight="normal" fill="#111" stroke="#111" >25</text>
<line x1="49.60" y1="366.70" x2="55.00" y2="366.70" stroke="#000" stroke-width="1.0" />
<text x="46.00" y="369.20" font-size="7.2" text-anchor="end" font-weight="normal" fill="#111" stroke="#111" >0</text>
<line x1="49.60" y1="344.13" x2="55.00" y2="344.13" stroke="#000" stroke-width="1.0" />
<text x="46.00" y="346.63" font-size="7.2" text-anchor="end" font-weight="normal" fill="#111" stroke="#111" >200</text>
<line x1="49.60" y1="321.57" x2="55.00" y2="321.57" stroke="#000" stroke-width="1.0" />
<text x="46.00" y="324.07" font-size="7.2" text-anchor="end" font-weight="normal" fill="#111" stroke="#111" >400</text>
<line x1="49.60" y1="299.00" x2="55.00" y2="299.00" stroke="#000" stroke-width="1.0" />
<text x="46.00" y="301.50" font-size="7.2" text-anchor="end" font-weight="normal" fill="#111" stroke="#111" >600</text>
<line x1="49.60" y1="276.43" x2="55.00" y2="276.43" stroke="#000" stroke-width="1.0" />
<text x="46.00" y="278.93" font-size="7.2" text-anchor="end" font-weight="normal" fill="#111" stroke="#111" >800</text>
<line x1="49.60" y1="253.87" x2="55.00" y2="253.87" stroke="#000" stroke-width="1.0" />
<text x="46.00" y="256.37" font-size="7.2" text-anchor="end" font-weight="normal" fill="#111" stroke="#111" >1,000</text>
<line x1="49.60" y1="231.30" x2="55.00" y2="231.30" stroke="#000" stroke-width="1.0" />
<text x="46.00" y="233.80" font-size="7.2" text-anchor="end" font-weight="normal" fill="#111" stroke="#111" >1,200</text>
<rect x="52.4" y="231.3" width="174.1" height="135.39999999999998" fill="none" stroke="#000" stroke-width="1.2"/>
<text x="140.60" y="390.30" font-size="7.7" text-anchor="middle" font-weight="bold" fill="#111" stroke="#111" >Time (d)</text>
<path d="M52.0,379 L52.0,384.5" stroke="#111" stroke-width="0.9"/>
<polygon points="52.0,377.8 50.4,381.6 53.6,381.6" fill="#111"/>
<text x="51.80" y="392.40" font-size="7.0" text-anchor="middle" font-weight="bold" fill="#111" stroke="#111" >RX</text>
<text transform="translate(24.6,300.2) rotate(-90)" font-size="8.2" text-anchor="middle" fill="#111" stroke="#111">Mean tumor volume (mm<tspan font-size="5" dy="-2.6">3</tspan><tspan dy="2.6">)</tspan></text>
<text x="221.70" y="242.20" font-size="8.3" text-anchor="end" font-weight="normal" fill="#111" stroke="#111" style="stroke-width:0.4px">Fo5</text>
<line x1="170.79" y1="286.14" x2="170.79" y2="314.12" stroke="#1e6b1e" stroke-width="1.0" />
<line x1="169.39" y1="286.14" x2="172.19" y2="286.14" stroke="#1e6b1e" stroke-width="1.0" />
<line x1="169.39" y1="314.12" x2="172.19" y2="314.12" stroke="#1e6b1e" stroke-width="1.0" />
<line x1="52.40" y1="348.99" x2="52.40" y2="351.69" stroke="#2a35d0" stroke-width="1.0" />
<line x1="51.00" y1="348.99" x2="53.80" y2="348.99" stroke="#2a35d0" stroke-width="1.0" />
<line x1="51.00" y1="351.69" x2="53.80" y2="351.69" stroke="#2a35d0" stroke-width="1.0" />
<line x1="73.29" y1="350.34" x2="73.29" y2="354.40" stroke="#2a35d0" stroke-width="1.0" />
<line x1="71.89" y1="350.34" x2="74.69" y2="350.34" stroke="#2a35d0" stroke-width="1.0" />
<line x1="71.89" y1="354.40" x2="74.69" y2="354.40" stroke="#2a35d0" stroke-width="1.0" />
<line x1="101.15" y1="351.35" x2="101.15" y2="354.74" stroke="#2a35d0" stroke-width="1.0" />
<line x1="99.75" y1="351.35" x2="102.55" y2="351.35" stroke="#2a35d0" stroke-width="1.0" />
<line x1="99.75" y1="354.74" x2="102.55" y2="354.74" stroke="#2a35d0" stroke-width="1.0" />
<line x1="122.04" y1="349.77" x2="122.04" y2="353.16" stroke="#2a35d0" stroke-width="1.0" />
<line x1="120.64" y1="349.77" x2="123.44" y2="349.77" stroke="#2a35d0" stroke-width="1.0" />
<line x1="120.64" y1="353.16" x2="123.44" y2="353.16" stroke="#2a35d0" stroke-width="1.0" />
<line x1="149.90" y1="343.34" x2="149.90" y2="350.11" stroke="#2a35d0" stroke-width="1.0" />
<line x1="148.50" y1="343.34" x2="151.30" y2="343.34" stroke="#2a35d0" stroke-width="1.0" />
<line x1="148.50" y1="350.11" x2="151.30" y2="350.11" stroke="#2a35d0" stroke-width="1.0" />
<line x1="170.79" y1="328.22" x2="170.79" y2="342.89" stroke="#2a35d0" stroke-width="1.0" />
<line x1="169.39" y1="328.22" x2="172.19" y2="328.22" stroke="#2a35d0" stroke-width="1.0" />
<line x1="169.39" y1="342.89" x2="172.19" y2="342.89" stroke="#2a35d0" stroke-width="1.0" />
<line x1="198.64" y1="297.42" x2="198.64" y2="330.14" stroke="#2a35d0" stroke-width="1.0" />
<line x1="197.24" y1="297.42" x2="200.04" y2="297.42" stroke="#2a35d0" stroke-width="1.0" />
<line x1="197.24" y1="330.14" x2="200.04" y2="330.14" stroke="#2a35d0" stroke-width="1.0" />
<line x1="73.29" y1="346.39" x2="73.29" y2="350.90" stroke="#5040d4" stroke-width="1.0" />
<line x1="71.89" y1="346.39" x2="74.69" y2="346.39" stroke="#5040d4" stroke-width="1.0" />
<line x1="71.89" y1="350.90" x2="74.69" y2="350.90" stroke="#5040d4" stroke-width="1.0" />
<line x1="101.15" y1="346.39" x2="101.15" y2="350.90" stroke="#5040d4" stroke-width="1.0" />
<line x1="99.75" y1="346.39" x2="102.55" y2="346.39" stroke="#5040d4" stroke-width="1.0" />
<line x1="99.75" y1="350.90" x2="102.55" y2="350.90" stroke="#5040d4" stroke-width="1.0" />
<line x1="122.04" y1="339.28" x2="122.04" y2="351.69" stroke="#5040d4" stroke-width="1.0" />
<line x1="120.64" y1="339.28" x2="123.44" y2="339.28" stroke="#5040d4" stroke-width="1.0" />
<line x1="120.64" y1="351.69" x2="123.44" y2="351.69" stroke="#5040d4" stroke-width="1.0" />
<line x1="149.90" y1="330.71" x2="149.90" y2="344.25" stroke="#5040d4" stroke-width="1.0" />
<line x1="148.50" y1="330.71" x2="151.30" y2="330.71" stroke="#5040d4" stroke-width="1.0" />
<line x1="148.50" y1="344.25" x2="151.30" y2="344.25" stroke="#5040d4" stroke-width="1.0" />
<line x1="170.79" y1="316.60" x2="170.79" y2="334.66" stroke="#5040d4" stroke-width="1.0" />
<line x1="169.39" y1="316.60" x2="172.19" y2="316.60" stroke="#5040d4" stroke-width="1.0" />
<line x1="169.39" y1="334.66" x2="172.19" y2="334.66" stroke="#5040d4" stroke-width="1.0" />
<line x1="198.64" y1="296.52" x2="198.64" y2="317.96" stroke="#5040d4" stroke-width="1.0" />
<line x1="197.24" y1="296.52" x2="200.04" y2="296.52" stroke="#5040d4" stroke-width="1.0" />
<line x1="197.24" y1="317.96" x2="200.04" y2="317.96" stroke="#5040d4" stroke-width="1.0" />
<line x1="73.29" y1="344.58" x2="73.29" y2="351.35" stroke="#e040d8" stroke-width="1.2" />
<line x1="71.89" y1="344.58" x2="74.69" y2="344.58" stroke="#e040d8" stroke-width="1.2" />
<line x1="71.89" y1="351.35" x2="74.69" y2="351.35" stroke="#e040d8" stroke-width="1.2" />
<line x1="101.15" y1="344.58" x2="101.15" y2="351.35" stroke="#e040d8" stroke-width="1.2" />
<line x1="99.75" y1="344.58" x2="102.55" y2="344.58" stroke="#e040d8" stroke-width="1.2" />
<line x1="99.75" y1="351.35" x2="102.55" y2="351.35" stroke="#e040d8" stroke-width="1.2" />
<line x1="122.04" y1="342.10" x2="122.04" y2="348.87" stroke="#e040d8" stroke-width="1.2" />
<line x1="120.64" y1="342.10" x2="123.44" y2="342.10" stroke="#e040d8" stroke-width="1.2" />
<line x1="120.64" y1="348.87" x2="123.44" y2="348.87" stroke="#e040d8" stroke-width="1.2" />
<line x1="149.90" y1="329.92" x2="149.90" y2="338.94" stroke="#e040d8" stroke-width="1.2" />
<line x1="148.50" y1="329.92" x2="151.30" y2="329.92" stroke="#e040d8" stroke-width="1.2" />
<line x1="148.50" y1="338.94" x2="151.30" y2="338.94" stroke="#e040d8" stroke-width="1.2" />
<line x1="170.79" y1="309.83" x2="170.79" y2="327.89" stroke="#e040d8" stroke-width="1.2" />
<line x1="169.39" y1="309.83" x2="172.19" y2="309.83" stroke="#e040d8" stroke-width="1.2" />
<line x1="169.39" y1="327.89" x2="172.19" y2="327.89" stroke="#e040d8" stroke-width="1.2" />
<line x1="198.64" y1="240.78" x2="198.64" y2="300.58" stroke="#e040d8" stroke-width="1.2" />
<line x1="197.24" y1="240.78" x2="200.04" y2="240.78" stroke="#e040d8" stroke-width="1.2" />
<line x1="197.24" y1="300.58" x2="200.04" y2="300.58" stroke="#e040d8" stroke-width="1.2" />
<line x1="73.29" y1="334.66" x2="73.29" y2="343.68" stroke="#111" stroke-width="1.0" />
<line x1="71.89" y1="334.66" x2="74.69" y2="334.66" stroke="#111" stroke-width="1.0" />
<line x1="71.89" y1="343.68" x2="74.69" y2="343.68" stroke="#111" stroke-width="1.0" />
<line x1="101.15" y1="290.31" x2="101.15" y2="315.14" stroke="#111" stroke-width="1.0" />
<line x1="99.75" y1="290.31" x2="102.55" y2="290.31" stroke="#111" stroke-width="1.0" />
<line x1="99.75" y1="315.14" x2="102.55" y2="315.14" stroke="#111" stroke-width="1.0" />
<line x1="122.04" y1="252.85" x2="122.04" y2="294.60" stroke="#111" stroke-width="1.0" />
<line x1="120.64" y1="252.85" x2="123.44" y2="252.85" stroke="#111" stroke-width="1.0" />
<line x1="120.64" y1="294.60" x2="123.44" y2="294.60" stroke="#111" stroke-width="1.0" />
<polyline points="52.40,350.11 73.29,348.65 101.15,349.21 122.04,345.26 149.90,329.58 170.79,300.13 198.64,260.41" fill="none" stroke="#1e6b1e" stroke-width="1.5" stroke-linejoin="round" />
<polygon points="52.40,347.35 55.04,351.91 49.76,351.91" fill="#1e6b1e"/>
<polygon points="73.29,345.89 75.93,350.45 70.65,350.45" fill="#1e6b1e"/>
<polygon points="101.15,346.45 103.79,351.01 98.51,351.01" fill="#1e6b1e"/>
<polygon points="122.04,342.50 124.68,347.06 119.40,347.06" fill="#1e6b1e"/>
<polygon points="149.90,326.82 152.54,331.38 147.26,331.38" fill="#1e6b1e"/>
<polygon points="170.79,297.37 173.43,301.93 168.15,301.93" fill="#1e6b1e"/>
<polygon points="198.64,257.65 201.28,262.21 196.00,262.21" fill="#1e6b1e"/>
<polyline points="52.40,350.34 73.29,352.37 101.15,353.05 122.04,351.47 149.90,346.73 170.79,335.56 198.64,313.78" fill="none" stroke="#2a35d0" stroke-width="1.5" stroke-linejoin="round" />
<circle cx="52.40" cy="350.34" r="2.20" fill="#2a35d0"/>
<circle cx="73.29" cy="352.37" r="2.20" fill="#2a35d0"/>
<circle cx="101.15" cy="353.05" r="2.20" fill="#2a35d0"/>
<circle cx="122.04" cy="351.47" r="2.20" fill="#2a35d0"/>
<circle cx="149.90" cy="346.73" r="2.20" fill="#2a35d0"/>
<circle cx="170.79" cy="335.56" r="2.20" fill="#2a35d0"/>
<circle cx="198.64" cy="313.78" r="2.20" fill="#2a35d0"/>
<polyline points="52.40,350.11 73.29,348.65 101.15,348.65 122.04,345.49 149.90,337.48 170.79,325.63 198.64,307.24" fill="none" stroke="#5040d4" stroke-width="1.5" stroke-linejoin="round" />
<polygon points="52.40,347.69 54.60,350.11 52.40,352.53 50.20,350.11" fill="#fff" stroke="#5040d4" stroke-width="1.1"/>
<polygon points="73.29,346.23 75.49,348.65 73.29,351.07 71.09,348.65" fill="#fff" stroke="#5040d4" stroke-width="1.1"/>
<polygon points="101.15,346.23 103.35,348.65 101.15,351.07 98.95,348.65" fill="#fff" stroke="#5040d4" stroke-width="1.1"/>
<polygon points="122.04,343.07 124.24,345.49 122.04,347.91 119.84,345.49" fill="#fff" stroke="#5040d4" stroke-width="1.1"/>
<polygon points="149.90,335.06 152.10,337.48 149.90,339.90 147.70,337.48" fill="#fff" stroke="#5040d4" stroke-width="1.1"/>
<polygon points="170.79,323.21 172.99,325.63 170.79,328.05 168.59,325.63" fill="#fff" stroke="#5040d4" stroke-width="1.1"/>
<polygon points="198.64,304.82 200.84,307.24 198.64,309.66 196.44,307.24" fill="#fff" stroke="#5040d4" stroke-width="1.1"/>
<polyline points="52.40,350.00 73.29,347.97 101.15,347.97 122.04,345.49 149.90,334.43 170.79,318.86 198.64,270.68" fill="none" stroke="#e0287a" stroke-width="1.5" stroke-linejoin="round" />
<rect x="50.00" y="347.60" width="4.80" height="4.80" fill="#f7a0c8" stroke="#e0287a" stroke-width="1.1"/>
<path d="M50.00,350.00H54.80M52.40,347.60V352.40" stroke="#e0287a" stroke-width="0.935"/>
<rect x="70.89" y="345.57" width="4.80" height="4.80" fill="#f7a0c8" stroke="#e0287a" stroke-width="1.1"/>
<path d="M70.89,347.97H75.69M73.29,345.57V350.37" stroke="#e0287a" stroke-width="0.935"/>
<rect x="98.75" y="345.57" width="4.80" height="4.80" fill="#f7a0c8" stroke="#e0287a" stroke-width="1.1"/>
<path d="M98.75,347.97H103.55M101.15,345.57V350.37" stroke="#e0287a" stroke-width="0.935"/>
<rect x="119.64" y="343.09" width="4.80" height="4.80" fill="#f7a0c8" stroke="#e0287a" stroke-width="1.1"/>
<path d="M119.64,345.49H124.44M122.04,343.09V347.89" stroke="#e0287a" stroke-width="0.935"/>
<rect x="147.50" y="332.03" width="4.80" height="4.80" fill="#f7a0c8" stroke="#e0287a" stroke-width="1.1"/>
<path d="M147.50,334.43H152.30M149.90,332.03V336.83" stroke="#e0287a" stroke-width="0.935"/>
<rect x="168.39" y="316.46" width="4.80" height="4.80" fill="#f7a0c8" stroke="#e0287a" stroke-width="1.1"/>
<path d="M168.39,318.86H173.19M170.79,316.46V321.26" stroke="#e0287a" stroke-width="0.935"/>
<rect x="196.24" y="268.28" width="4.80" height="4.80" fill="#f7a0c8" stroke="#e0287a" stroke-width="1.1"/>
<path d="M196.24,270.68H201.04M198.64,268.28V273.08" stroke="#e0287a" stroke-width="0.935"/>
<polyline points="52.40,349.77 73.29,339.17 101.15,302.72 122.04,273.73" fill="none" stroke="#111" stroke-width="1.5" stroke-linejoin="round" />
<path d="M50.40,347.77L54.40,351.77M50.40,351.77L54.40,347.77" stroke="#111" stroke-width="1.1"/>
<rect x="51.30" y="348.67" width="2.2" height="2.2" fill="#111"/>
<path d="M71.29,337.17L75.29,341.17M71.29,341.17L75.29,337.17" stroke="#111" stroke-width="1.1"/>
<rect x="72.19" y="338.07" width="2.2" height="2.2" fill="#111"/>
<path d="M99.15,300.72L103.15,304.72M99.15,304.72L103.15,300.72" stroke="#111" stroke-width="1.1"/>
<rect x="100.05" y="301.62" width="2.2" height="2.2" fill="#111"/>
<path d="M120.04,271.73L124.04,275.73M120.04,275.73L124.04,271.73" stroke="#111" stroke-width="1.1"/>
<rect x="120.94" y="272.63" width="2.2" height="2.2" fill="#111"/>
<rect x="59.6" y="210.5" width="112.4" height="39.6" fill="#fff" stroke="#111" stroke-width="1.0"/>
<line x1="62.30" y1="215.70" x2="77.50" y2="215.70" stroke="#111" stroke-width="1.1" />
<path d="M68.30,214.00L71.70,217.40M68.30,217.40L71.70,214.00" stroke="#111" stroke-width="1.0"/>
<rect x="68.90" y="214.60" width="2.2" height="2.2" fill="#111"/>
<text x="81.30" y="218.20" font-size="6.9" text-anchor="start" font-weight="bold" fill="#111" stroke="#111" >Vehicle</text>
<line x1="62.30" y1="222.90" x2="77.50" y2="222.90" stroke="#1e6b1e" stroke-width="1.1" />
<polygon points="70.00,220.60 72.20,224.40 67.80,224.40" fill="#1e6b1e"/>
<text x="81.30" y="225.40" font-size="7.2" text-anchor="start" font-weight="normal" fill="#1e6b1e" stroke="#1e6b1e" >Trastuzumab-SPP-DM1</text>
<line x1="62.30" y1="229.90" x2="77.50" y2="229.90" stroke="#2a35d0" stroke-width="1.1" />
<circle cx="70.00" cy="229.90" r="2.00" fill="#2a35d0"/>
<text x="81.30" y="232.40" font-size="7.2" text-anchor="start" font-weight="normal" fill="#2a35d0" stroke="#2a35d0" >Trastuzumab-MCC-DM1</text>
<line x1="62.30" y1="236.60" x2="77.50" y2="236.60" stroke="#5040d4" stroke-width="1.1" />
<polygon points="70.00,234.07 72.30,236.60 70.00,239.13 67.70,236.60" fill="#fff" stroke="#5040d4" stroke-width="1.0"/>
<text x="81.30" y="239.10" font-size="7.2" text-anchor="start" font-weight="normal" fill="#5040d4" stroke="#5040d4" >Trastuzumab-SSNPP-DM3</text>
<line x1="62.30" y1="243.40" x2="77.50" y2="243.40" stroke="#e0287a" stroke-width="1.1" stroke-dasharray="2,1.2"/>
<rect x="67.50" y="240.90" width="5.00" height="5.00" fill="#f7a0c8" stroke="#e0287a" stroke-width="1.0"/>
<path d="M67.50,243.40H72.50M70.00,240.90V245.90" stroke="#e0287a" stroke-width="0.85"/>
<text x="81.30" y="245.90" font-size="7.2" text-anchor="start" font-weight="normal" fill="#c82060" stroke="#c82060" >Trastuzumab-SSNPP-DM4</text>
<line x1="302.00" y1="363.16" x2="303.90" y2="363.16" stroke="#000" stroke-width="0.8" />
<line x1="302.00" y1="359.72" x2="303.90" y2="359.72" stroke="#000" stroke-width="0.8" />
<line x1="302.00" y1="356.28" x2="303.90" y2="356.28" stroke="#000" stroke-width="0.8" />
<line x1="302.00" y1="352.84" x2="303.90" y2="352.84" stroke="#000" stroke-width="0.8" />
<line x1="302.00" y1="345.96" x2="303.90" y2="345.96" stroke="#000" stroke-width="0.8" />
<line x1="302.00" y1="342.52" x2="303.90" y2="342.52" stroke="#000" stroke-width="0.8" />
<line x1="302.00" y1="339.08" x2="303.90" y2="339.08" stroke="#000" stroke-width="0.8" />
<line x1="302.00" y1="335.64" x2="303.90" y2="335.64" stroke="#000" stroke-width="0.8" />
<line x1="302.00" y1="328.76" x2="303.90" y2="328.76" stroke="#000" stroke-width="0.8" />
<line x1="302.00" y1="325.32" x2="303.90" y2="325.32" stroke="#000" stroke-width="0.8" />
<line x1="302.00" y1="321.88" x2="303.90" y2="321.88" stroke="#000" stroke-width="0.8" />
<line x1="302.00" y1="318.44" x2="303.90" y2="318.44" stroke="#000" stroke-width="0.8" />
<line x1="302.00" y1="311.56" x2="303.90" y2="311.56" stroke="#000" stroke-width="0.8" />
<line x1="302.00" y1="308.12" x2="303.90" y2="308.12" stroke="#000" stroke-width="0.8" />
<line x1="302.00" y1="304.68" x2="303.90" y2="304.68" stroke="#000" stroke-width="0.8" />
<line x1="302.00" y1="301.24" x2="303.90" y2="301.24" stroke="#000" stroke-width="0.8" />
<line x1="302.00" y1="294.36" x2="303.90" y2="294.36" stroke="#000" stroke-width="0.8" />
<line x1="302.00" y1="290.92" x2="303.90" y2="290.92" stroke="#000" stroke-width="0.8" />
<line x1="302.00" y1="287.48" x2="303.90" y2="287.48" stroke="#000" stroke-width="0.8" />
<line x1="302.00" y1="284.04" x2="303.90" y2="284.04" stroke="#000" stroke-width="0.8" />
<line x1="302.00" y1="277.16" x2="303.90" y2="277.16" stroke="#000" stroke-width="0.8" />
<line x1="302.00" y1="273.72" x2="303.90" y2="273.72" stroke="#000" stroke-width="0.8" />
<line x1="302.00" y1="270.28" x2="303.90" y2="270.28" stroke="#000" stroke-width="0.8" />
<line x1="302.00" y1="266.84" x2="303.90" y2="266.84" stroke="#000" stroke-width="0.8" />
<line x1="302.00" y1="259.96" x2="303.90" y2="259.96" stroke="#000" stroke-width="0.8" />
<line x1="302.00" y1="256.52" x2="303.90" y2="256.52" stroke="#000" stroke-width="0.8" />
<line x1="302.00" y1="253.08" x2="303.90" y2="253.08" stroke="#000" stroke-width="0.8" />
<line x1="302.00" y1="249.64" x2="303.90" y2="249.64" stroke="#000" stroke-width="0.8" />
<line x1="302.00" y1="242.76" x2="303.90" y2="242.76" stroke="#000" stroke-width="0.8" />
<line x1="302.00" y1="239.32" x2="303.90" y2="239.32" stroke="#000" stroke-width="0.8" />
<line x1="302.00" y1="235.88" x2="303.90" y2="235.88" stroke="#000" stroke-width="0.8" />
<line x1="302.00" y1="232.44" x2="303.90" y2="232.44" stroke="#000" stroke-width="0.8" />
<line x1="302.00" y1="364.00" x2="302.00" y2="369.20" stroke="#000" stroke-width="1.0" />
<text x="302.00" y="376.40" font-size="7.4" text-anchor="middle" font-weight="normal" fill="#111" stroke="#111" >1</text>
<line x1="337.04" y1="364.00" x2="337.04" y2="369.20" stroke="#000" stroke-width="1.0" />
<text x="337.04" y="376.40" font-size="7.4" text-anchor="middle" font-weight="normal" fill="#111" stroke="#111" >2</text>
<line x1="372.08" y1="364.00" x2="372.08" y2="369.20" stroke="#000" stroke-width="1.0" />
<text x="372.08" y="376.40" font-size="7.4" text-anchor="middle" font-weight="normal" fill="#111" stroke="#111" >3</text>
<line x1="407.12" y1="364.00" x2="407.12" y2="369.20" stroke="#000" stroke-width="1.0" />
<text x="407.12" y="376.40" font-size="7.4" text-anchor="middle" font-weight="normal" fill="#111" stroke="#111" >4</text>
<line x1="442.16" y1="364.00" x2="442.16" y2="369.20" stroke="#000" stroke-width="1.0" />
<text x="442.16" y="376.40" font-size="7.4" text-anchor="middle" font-weight="normal" fill="#111" stroke="#111" >5</text>
<line x1="477.20" y1="364.00" x2="477.20" y2="369.20" stroke="#000" stroke-width="1.0" />
<line x1="299.20" y1="366.60" x2="304.60" y2="366.60" stroke="#000" stroke-width="1.0" />
<text x="297.00" y="369.20" font-size="7.4" text-anchor="end" font-weight="normal" fill="#111" stroke="#111" >-20</text>
<line x1="299.20" y1="349.40" x2="304.60" y2="349.40" stroke="#000" stroke-width="1.0" />
<text x="297.00" y="352.00" font-size="7.4" text-anchor="end" font-weight="normal" fill="#111" stroke="#111" >-15</text>
<line x1="299.20" y1="332.20" x2="304.60" y2="332.20" stroke="#000" stroke-width="1.0" />
<text x="297.00" y="334.80" font-size="7.4" text-anchor="end" font-weight="normal" fill="#111" stroke="#111" >-10</text>
<line x1="299.20" y1="315.00" x2="304.60" y2="315.00" stroke="#000" stroke-width="1.0" />
<text x="297.00" y="317.60" font-size="7.4" text-anchor="end" font-weight="normal" fill="#111" stroke="#111" >-5</text>
<line x1="299.20" y1="297.80" x2="304.60" y2="297.80" stroke="#000" stroke-width="1.0" />
<text x="297.00" y="300.40" font-size="7.4" text-anchor="end" font-weight="normal" fill="#111" stroke="#111" >0</text>
<line x1="299.20" y1="280.60" x2="304.60" y2="280.60" stroke="#000" stroke-width="1.0" />
<text x="297.00" y="283.20" font-size="7.4" text-anchor="end" font-weight="normal" fill="#111" stroke="#111" >5</text>
<line x1="299.20" y1="263.40" x2="304.60" y2="263.40" stroke="#000" stroke-width="1.0" />
<text x="297.00" y="266.00" font-size="7.4" text-anchor="end" font-weight="normal" fill="#111" stroke="#111" >10</text>
<line x1="299.20" y1="246.20" x2="304.60" y2="246.20" stroke="#000" stroke-width="1.0" />
<text x="297.00" y="248.80" font-size="7.4" text-anchor="end" font-weight="normal" fill="#111" stroke="#111" >15</text>
<line x1="299.20" y1="229.00" x2="304.60" y2="229.00" stroke="#000" stroke-width="1.0" />
<text x="297.00" y="231.60" font-size="7.4" text-anchor="end" font-weight="normal" fill="#111" stroke="#111" >20</text>
<rect x="302.0" y="229.0" width="175.2" height="137.60000000000002" fill="none" stroke="#000" stroke-width="1.2"/>
<line x1="302.00" y1="297.80" x2="477.20" y2="297.80" stroke="#000" stroke-width="1.0" />
<text x="389.00" y="388.40" font-size="7.7" text-anchor="middle" font-weight="bold" fill="#111" stroke="#111" >Time (d)</text>
<text transform="translate(271.4,295.5) rotate(-90)" font-size="8.0" text-anchor="middle" fill="#111" stroke="#111">Percent weight change</text>
<text transform="translate(280.8,298.4) rotate(-90)" font-size="8.2" text-anchor="middle" fill="#111" stroke="#111">(mean ±SE)</text>
<line x1="372.08" y1="300.90" x2="372.08" y2="314.66" stroke="#1e6b1e" stroke-width="1.0" />
<line x1="370.68" y1="300.90" x2="373.48" y2="300.90" stroke="#1e6b1e" stroke-width="1.0" />
<line x1="370.68" y1="314.66" x2="373.48" y2="314.66" stroke="#1e6b1e" stroke-width="1.0" />
<line x1="407.12" y1="314.66" x2="407.12" y2="338.39" stroke="#1e6b1e" stroke-width="1.0" />
<line x1="405.72" y1="314.66" x2="408.52" y2="314.66" stroke="#1e6b1e" stroke-width="1.0" />
<line x1="405.72" y1="338.39" x2="408.52" y2="338.39" stroke="#1e6b1e" stroke-width="1.0" />
<line x1="442.16" y1="319.47" x2="442.16" y2="345.62" stroke="#1e6b1e" stroke-width="1.0" />
<line x1="440.76" y1="319.47" x2="443.56" y2="319.47" stroke="#1e6b1e" stroke-width="1.0" />
<line x1="440.76" y1="345.62" x2="443.56" y2="345.62" stroke="#1e6b1e" stroke-width="1.0" />
<line x1="337.04" y1="287.14" x2="337.04" y2="294.02" stroke="#1e6b1e" stroke-width="1.0" />
<line x1="335.64" y1="287.14" x2="338.44" y2="287.14" stroke="#1e6b1e" stroke-width="1.0" />
<line x1="335.64" y1="294.02" x2="338.44" y2="294.02" stroke="#1e6b1e" stroke-width="1.0" />
<line x1="337.04" y1="275.44" x2="337.04" y2="287.48" stroke="#e02020" stroke-width="1.0" stroke-dasharray="2,1.3"/>
<line x1="335.64" y1="275.44" x2="338.44" y2="275.44" stroke="#e02020" stroke-width="1.0" />
<line x1="335.64" y1="287.48" x2="338.44" y2="287.48" stroke="#e02020" stroke-width="1.0" />
<line x1="372.08" y1="256.86" x2="372.08" y2="291.26" stroke="#e02020" stroke-width="1.0" stroke-dasharray="2,1.3"/>
<line x1="370.68" y1="256.86" x2="373.48" y2="256.86" stroke="#e02020" stroke-width="1.0" />
<line x1="370.68" y1="291.26" x2="373.48" y2="291.26" stroke="#e02020" stroke-width="1.0" />
<line x1="407.12" y1="245.17" x2="407.12" y2="287.48" stroke="#e02020" stroke-width="1.0" stroke-dasharray="2,1.3"/>
<line x1="405.72" y1="245.17" x2="408.52" y2="245.17" stroke="#e02020" stroke-width="1.0" />
<line x1="405.72" y1="287.48" x2="408.52" y2="287.48" stroke="#e02020" stroke-width="1.0" />
<line x1="442.16" y1="229.00" x2="442.16" y2="286.45" stroke="#e02020" stroke-width="1.0" stroke-dasharray="2,1.3"/>
<line x1="440.76" y1="229.00" x2="443.56" y2="229.00" stroke="#e02020" stroke-width="1.0" />
<line x1="440.76" y1="286.45" x2="443.56" y2="286.45" stroke="#e02020" stroke-width="1.0" />
<line x1="372.08" y1="258.24" x2="372.08" y2="272.00" stroke="#c01818" stroke-width="1.0" />
<line x1="370.68" y1="258.24" x2="373.48" y2="258.24" stroke="#c01818" stroke-width="1.0" />
<line x1="370.68" y1="272.00" x2="373.48" y2="272.00" stroke="#c01818" stroke-width="1.0" />
<line x1="407.12" y1="247.92" x2="407.12" y2="261.68" stroke="#c01818" stroke-width="1.0" />
<line x1="405.72" y1="247.92" x2="408.52" y2="247.92" stroke="#c01818" stroke-width="1.0" />
<line x1="405.72" y1="261.68" x2="408.52" y2="261.68" stroke="#c01818" stroke-width="1.0" />
<line x1="442.16" y1="234.16" x2="442.16" y2="251.36" stroke="#c01818" stroke-width="1.0" />
<line x1="440.76" y1="234.16" x2="443.56" y2="234.16" stroke="#c01818" stroke-width="1.0" />
<line x1="440.76" y1="251.36" x2="443.56" y2="251.36" stroke="#c01818" stroke-width="1.0" />
<path d="M302.00,297.80 C307.84,296.14 325.36,286.16 337.04,287.82 C348.72,289.49 360.40,301.41 372.08,307.78 C383.76,314.14 395.44,321.88 407.12,326.01 C418.80,330.14 436.32,331.45 442.16,332.54" fill="none" stroke="#1e6b1e" stroke-width="1.5"/>
<path d="M302.00,297.80 C307.84,295.91 325.36,289.00 337.04,286.45 C348.72,283.90 360.40,282.72 372.08,282.49 C383.76,282.26 395.44,286.30 407.12,285.07 C418.80,283.84 436.32,276.76 442.16,275.10" fill="none" stroke="#2a3ad8" stroke-width="1.5"/>
<path d="M302.00,297.80 C307.84,295.22 325.36,287.08 337.04,282.32 C348.72,277.56 360.40,269.48 372.08,269.25 C383.76,269.02 395.44,280.03 407.12,280.94 C418.80,281.86 436.32,275.78 442.16,274.75" fill="none" stroke="#e02020" stroke-width="1.5"/>
<polyline points="302.00,298.10 337.04,282.28 372.08,266.95 407.12,255.26 442.16,242.87" fill="none" stroke="#1a0000" stroke-width="1.5" stroke-linejoin="round" />
<polyline points="302.00,297.50 337.04,281.33 372.08,265.16 407.12,253.81 442.16,242.12" fill="none" stroke="#dc1c1c" stroke-width="1.5" stroke-linejoin="round" />
<circle cx="337.04" cy="287.82" r="2.20" fill="#1e6b1e"/>
<circle cx="372.08" cy="307.78" r="2.20" fill="#1e6b1e"/>
<circle cx="407.12" cy="326.01" r="2.20" fill="#1e6b1e"/>
<circle cx="442.16" cy="332.54" r="2.20" fill="#1e6b1e"/>
<circle cx="337.04" cy="282.32" r="2.00" fill="#e02020"/>
<circle cx="372.08" cy="269.25" r="2.00" fill="#e02020"/>
<circle cx="407.12" cy="280.94" r="2.00" fill="#e02020"/>
<circle cx="442.16" cy="274.75" r="2.00" fill="#e02020"/>
<rect x="334.74" y="279.33" width="4.60" height="4.60" fill="#e81a1a"/>
<rect x="369.78" y="263.16" width="4.60" height="4.60" fill="#e81a1a"/>
<rect x="404.82" y="251.81" width="4.60" height="4.60" fill="#e81a1a"/>
<rect x="439.86" y="240.12" width="4.60" height="4.60" fill="#e81a1a"/>
<circle cx="302.00" cy="297.80" r="2.00" fill="#fff" stroke="#2a3ad8" stroke-width="1.1"/>
<circle cx="337.04" cy="286.45" r="2.00" fill="#fff" stroke="#2a3ad8" stroke-width="1.1"/>
<circle cx="372.08" cy="282.49" r="2.00" fill="#fff" stroke="#2a3ad8" stroke-width="1.1"/>
<circle cx="407.12" cy="285.07" r="2.00" fill="#fff" stroke="#2a3ad8" stroke-width="1.1"/>
<circle cx="442.16" cy="275.10" r="2.00" fill="#fff" stroke="#2a3ad8" stroke-width="1.1"/>
<text x="357.80" y="244.60" font-size="7.2" text-anchor="middle" font-weight="normal" fill="#e02020" stroke="#e02020" >Trastuzumab-MCC-DM1</text>
<text x="357.30" y="253.50" font-size="7.2" text-anchor="middle" font-weight="normal" fill="#e02020" stroke="#e02020" >(25 mg/kg, 1632 µg/m<tspan font-size="4.8" dy="-2.4">2</tspan><tspan dy="2.4">)</tspan></text>
<text x="418.30" y="241.10" font-size="6.8" text-anchor="middle" font-weight="bold" fill="#111" stroke="#111" >Vehicle</text>
<text x="469.00" y="258.50" font-size="7.2" text-anchor="middle" font-weight="normal" fill="#e02020" stroke="#e02020" >Trastuzumab-MCC-DM1</text>
<text x="468.30" y="267.60" font-size="7.2" text-anchor="middle" font-weight="normal" fill="#e02020" stroke="#e02020" >(50 mg/kg, 3264 µg/m<tspan font-size="4.8" dy="-2.4">2</tspan><tspan dy="2.4">)</tspan></text>
<text x="410.20" y="296.50" font-size="7.2" text-anchor="middle" font-weight="normal" fill="#2a3ad8" stroke="#2a3ad8" >Free DM1<tspan font-size="4.8" dy="-2.4">a</tspan><tspan dy="2.4">(653 µg/m</tspan><tspan font-size="4.8" dy="-2.4">2</tspan><tspan dy="2.4">)</tspan></text>
<text x="359.50" y="332.60" font-size="7.2" text-anchor="middle" font-weight="normal" fill="#2e922e" stroke="#2e922e" >Trastuzumab-SPP-DM1</text>
<text x="358.00" y="341.00" font-size="7.2" text-anchor="middle" font-weight="normal" fill="#2e922e" stroke="#2e922e" >(22 mg/kg, 1632 µg/m<tspan font-size="4.8" dy="-2.4">2</tspan><tspan dy="2.4">)</tspan></text>
<path d="M351.9,256.7 L368.5,264.5" stroke="#e02020" stroke-width="0.9"/>
<polygon points="370.2,265.3 365.6,265.0 367.4,261.6" fill="#e02020"/>
<path d="M431.2,267.5 L420.5,276.2" stroke="#e02020" stroke-width="0.9"/>
<polygon points="419.0,277.4 420.4,273.2 423.0,276.2" fill="#e02020"/>
<text x="13.60" y="20.20" font-size="10.0" text-anchor="start" font-weight="bold" fill="#000" stroke="#000" style="stroke-width:0.5px">A</text>
<text x="13.60" y="220.00" font-size="10.0" text-anchor="start" font-weight="bold" fill="#000" stroke="#000" style="stroke-width:0.5px">B</text>
<text x="271.80" y="215.90" font-size="10.0" text-anchor="start" font-weight="bold" fill="#000" stroke="#000" style="stroke-width:0.5px">C</text>
</g>
<rect x="0" y="0" width="1" height="405" fill="#000"/>
<rect x="0" y="0" width="520" height="1" fill="#000"/>
<rect x="518.8" y="0" width="1.2" height="405" fill="#000"/>
<rect x="0" y="403.7" width="520" height="1.3" fill="#000"/>
</svg>
</body></html>
